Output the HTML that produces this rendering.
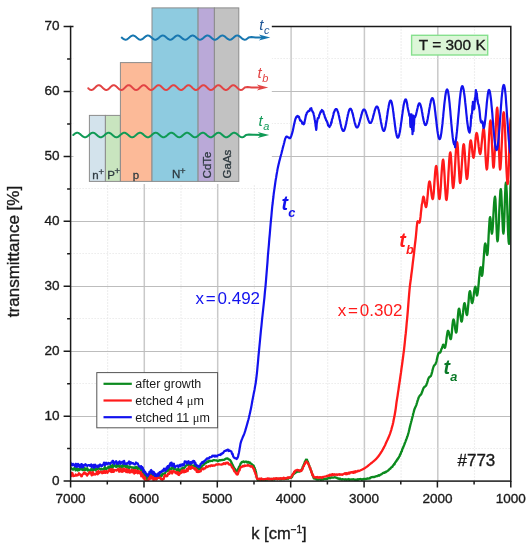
<!DOCTYPE html><html><head><meta charset="utf-8"><style>
html,body{margin:0;padding:0;background:#fff;}
svg{display:block;}
text{font-family:"Liberation Sans",Arial,sans-serif;}
.k{stroke:#1a1a1a;stroke-width:0.35px;}
</style></head><body>
<svg width="532" height="550" viewBox="0 0 532 550">
<rect width="532" height="550" fill="#fff"/>
<g><line x1="474.5" y1="26.5" x2="474.5" y2="481.1" stroke="#e0e0e0" stroke-width="1.2" stroke-dasharray="1 2"/><line x1="437.8" y1="26.5" x2="437.8" y2="481.1" stroke="#c9c9c9" stroke-width="1.5"/><line x1="401.1" y1="26.5" x2="401.1" y2="481.1" stroke="#e0e0e0" stroke-width="1.2" stroke-dasharray="1 2"/><line x1="364.4" y1="26.5" x2="364.4" y2="481.1" stroke="#c9c9c9" stroke-width="1.5"/><line x1="327.7" y1="26.5" x2="327.7" y2="481.1" stroke="#e0e0e0" stroke-width="1.2" stroke-dasharray="1 2"/><line x1="291.1" y1="26.5" x2="291.1" y2="481.1" stroke="#c9c9c9" stroke-width="1.5"/><line x1="254.4" y1="26.5" x2="254.4" y2="481.1" stroke="#e0e0e0" stroke-width="1.2" stroke-dasharray="1 2"/><line x1="217.7" y1="26.5" x2="217.7" y2="481.1" stroke="#c9c9c9" stroke-width="1.5"/><line x1="181" y1="26.5" x2="181" y2="481.1" stroke="#e0e0e0" stroke-width="1.2" stroke-dasharray="1 2"/><line x1="144.3" y1="26.5" x2="144.3" y2="481.1" stroke="#c9c9c9" stroke-width="1.5"/><line x1="107.6" y1="26.5" x2="107.6" y2="481.1" stroke="#e0e0e0" stroke-width="1.2" stroke-dasharray="1 2"/><line x1="70.6" y1="448.5" x2="510.8" y2="448.5" stroke="#e0e0e0" stroke-width="1" stroke-dasharray="1 2"/><line x1="70.6" y1="416.5" x2="510.8" y2="416.5" stroke="#bdbdbd" stroke-width="1"/><line x1="70.6" y1="383.5" x2="510.8" y2="383.5" stroke="#e0e0e0" stroke-width="1" stroke-dasharray="1 2"/><line x1="70.6" y1="351.5" x2="510.8" y2="351.5" stroke="#bdbdbd" stroke-width="1"/><line x1="70.6" y1="318.5" x2="510.8" y2="318.5" stroke="#e0e0e0" stroke-width="1" stroke-dasharray="1 2"/><line x1="70.6" y1="286.5" x2="510.8" y2="286.5" stroke="#bdbdbd" stroke-width="1"/><line x1="70.6" y1="253.5" x2="510.8" y2="253.5" stroke="#e0e0e0" stroke-width="1" stroke-dasharray="1 2"/><line x1="70.6" y1="221.5" x2="510.8" y2="221.5" stroke="#bdbdbd" stroke-width="1"/><line x1="70.6" y1="188.5" x2="510.8" y2="188.5" stroke="#e0e0e0" stroke-width="1" stroke-dasharray="1 2"/><line x1="70.6" y1="156.5" x2="510.8" y2="156.5" stroke="#bdbdbd" stroke-width="1"/><line x1="70.6" y1="123.5" x2="510.8" y2="123.5" stroke="#e0e0e0" stroke-width="1" stroke-dasharray="1 2"/><line x1="70.6" y1="91.5" x2="510.8" y2="91.5" stroke="#bdbdbd" stroke-width="1"/><line x1="70.6" y1="58.5" x2="510.8" y2="58.5" stroke="#e0e0e0" stroke-width="1" stroke-dasharray="1 2"/></g>
<defs><clipPath id="pc"><rect x="70.6" y="0" width="440.2" height="481.1"/></clipPath></defs>
<g clip-path="url(#pc)">
<polyline fill="none" stroke="#0b8a1e" stroke-width="2.3" stroke-linejoin="round" stroke-linecap="round" points="70.6,467.8 71.1,468.7 71.7,468.5 72.5,469.3 73.3,469.6 74.2,468.2 75,468.1 75.7,470.4 76.4,468.7 77.2,468.5 77.9,470.5 78.9,469 79.4,470 80,468.9 80.7,469.4 81.4,468.1 81.9,469.5 82.4,470.1 83,469.2 83.5,469.9 84.1,469.7 84.7,468.1 85.3,470 85.9,469.6 86.5,468.9 87.1,468.1 87.7,470.5 88.3,469.4 88.9,470.1 89.4,470.6 90,470.1 90.6,470.7 91.1,469.2 91.7,470.3 92.3,469.2 92.8,470.5 93.4,470.3 94,468.1 94.6,468.1 95.1,468.3 95.7,470.3 96.3,468.8 96.8,469.2 97.4,468.3 97.9,468.8 98.4,468.4 99,468.2 99.5,468.8 100,468.7 100.7,469.6 101.5,468.8 102.2,469.5 102.9,469.2 103.5,469.5 104.2,468.5 104.8,467 105.5,468.9 106.1,469.1 106.7,468.8 107.4,467.8 108,468.1 108.6,466.6 109.2,468.2 109.7,467.3 110.3,466.4 110.8,465.6 111.4,467.6 111.9,467.9 112.5,465.2 113.1,467.1 113.7,465.9 114.3,465.1 115,465.4 115.7,466.7 116.5,467 117,464.7 117.6,466.3 118.1,464.7 118.7,466.6 119.2,465.6 119.8,467.2 120.4,467.5 121,466.2 121.6,467.6 122.1,465.7 122.7,465.1 123.3,466.6 123.9,465.1 124.4,465.6 125,466.2 125.6,466.9 126.2,465.6 126.7,465.4 127.3,467.7 127.9,466.2 128.5,468.1 129.1,468 129.7,466.6 130.3,466.9 130.9,467.1 131.5,467.5 132.1,467.4 132.6,467.4 133.1,467.6 133.7,468.6 134.3,467.4 135,467.3 135.5,468.2 136.1,466.9 136.9,467.2 137.7,469.2 138.3,468 138.9,468.3 139.5,467.1 140.1,468.8 140.8,469.9 141.3,469 141.9,471.4 142.4,472.2 142.9,471.3 143.3,473.5 143.7,473.7 144,474.9 144.4,474.6 144.7,476.1 145.1,476.7 145.5,475.1 146,475.8 146.5,477.9 147,479.1 147.5,477.3 148,477.9 148.5,477.9 149,476.6 149.4,475.9 149.9,475 150.4,474.5 150.8,474.8 151.2,473.9 151.5,474.3 151.9,475.7 152.2,474 152.6,475.9 153,476.7 153.5,475.8 154,476 154.6,478.1 155.1,476.9 155.8,477 156.4,477.8 157.1,478.4 157.8,476.4 158.6,476.6 159.4,476.1 160.1,476.9 160.9,475.3 161.7,476 162.4,473.6 163.2,473.6 164,473.9 164.7,474.1 165.4,472.4 166,471.2 166.6,470.4 167.2,471 167.7,469.5 168.2,470.8 168.8,470.4 169.4,468.2 169.9,468.2 170.5,469.3 171.1,468.6 171.6,468.9 172.2,467.6 172.8,467.1 173.3,467.7 173.9,469.4 174.5,468.3 175,468.8 175.6,469.3 176.2,469.4 176.7,469.6 177.3,471.1 177.9,469.1 178.4,468.7 179,471.2 179.6,470.9 180.1,471.1 180.6,469.3 181.2,470.4 181.8,470.1 182.4,467.7 183.1,468.7 183.9,468.5 184.7,467.4 185.5,466.5 186.2,465.3 186.9,465.1 187.5,464.5 188,463.9 188.5,465 189,464.2 189.5,465.4 190,463.5 190.6,465.5 191.2,465 191.8,465.6 192.5,465.6 193.2,465.8 193.9,465.5 194.7,464.9 195.1,466.7 195.5,466 195.9,466.6 196.3,467.8 196.7,467.9 197.1,468.1 197.9,469.7 198.6,469.4 199.2,468.9 199.7,468.5 200.2,469 200.7,467.8 201.2,467.6 201.8,466.4 202.4,465.6 203,465.3 203.6,465 204.2,463.4 205,463.5 205.8,463.1 206.3,462.7 206.8,462.5 207.3,461.4 207.9,461.9 208.4,461.9 209,461 209.6,461 210.2,460.9 210.8,461 211.4,460.8 211.9,460.8 212.4,461 213.3,460.1 214.2,460.1 215.1,460.3 215.9,460.3 216.7,460.3 217.6,461.2 218.5,461 219.4,460.1 220.3,460.4 221.2,460.1 222.1,460 222.9,459.9 223.7,459.9 224.5,459.6 225.3,459 226.1,458.6 226.8,458.5 227.5,458.3 228.1,458.9 228.7,459.4 229.3,459.5 229.8,459.7 230.3,460.4 230.8,461.2 231.3,462.1 231.7,463.2 231.9,463.3 232.1,464.2 232.4,464.5 232.6,464.8 232.8,465.2 233,465.8 233.4,466.8 233.8,467.3 234.3,468.3 234.8,468.8 235.2,469.3 235.6,470.1 236,470.7 236.3,470.4 236.5,470.9 236.7,470.9 236.9,471.3 237.2,471.2 237.4,470.4 237.7,470.5 238,469.8 238.3,468.6 238.6,468 239,466.9 239.3,466.9 239.6,466.1 239.9,465.5 240.2,464.7 240.5,463.8 240.8,463.3 241.3,462.7 241.9,461.9 242.5,462.2 243.2,461.5 243.9,461.6 244.6,462.3 245.3,461.6 246,461.6 246.6,461.6 247.3,462.5 247.9,461.9 248.5,461.9 249.2,462.9 249.9,462.5 250.6,463.5 251.3,463.8 252,464.4 252.6,465 253.2,465.4 253.5,466 253.7,465.7 254,466.9 254.2,467.2 254.4,468 254.7,467.9 254.9,469.1 255.1,469.9 255.3,469.6 255.5,470.5 255.6,471.3 255.8,472.1 255.9,472.1 256.1,472.6 256.2,473.3 256.3,474.3 256.4,475.1 256.5,475.3 256.5,475.9 256.6,476.5 256.7,477 256.8,477.5 257.1,478 257.4,478.9 257.6,479.8 257.8,479.4 258.2,479.8 258.8,479.3 259.7,479.9 260.3,480 261,479.9 261.5,479.7 262,479.7 262.6,479.8 263.2,480 263.8,479.3 264.4,479.2 265,479.8 265.7,479.9 266.3,479.5 266.9,479.4 267.6,479.6 268.2,479.1 268.8,479.1 269.4,479 270,479.4 270.6,479.1 271.1,479 271.7,479.4 272.2,479.7 272.8,479 273.4,479.4 273.9,479.1 274.5,479.5 275,479.3 275.6,478.9 276.1,478.9 276.7,478.7 277.2,479.1 277.8,479 278.3,478.8 278.9,478.9 279.4,478.9 280,479.3 280.6,478.6 281.2,479.4 281.7,478.9 282.4,479 283,478.8 283.6,479.1 284.2,479.1 284.8,478.8 285.4,478.7 286,478.8 286.6,478.9 287.2,478.4 287.7,478.7 288.2,478.8 288.7,478.3 289.4,477.9 290,477.7 290.9,477.8 291.5,477.3 291.9,477.1 292.3,476.4 292.6,475.3 293,474.7 293.5,474.2 293.9,473.6 294.4,473.6 294.9,473.2 295.4,472.8 296,471.8 296.7,472.1 297.6,471.5 298.5,471.5 299.4,471.7 300.2,470.8 301,470.2 301.3,470.4 301.7,469.4 302,468.9 302.3,468.4 302.5,468.1 302.7,466.9 302.9,466.8 303.1,466.4 303.3,465.9 303.5,465.2 303.8,464.8 304,464.5 304.3,463.4 304.5,463 304.9,461.7 305.3,461.1 305.6,460.8 305.9,459.7 306.2,460.2 306.6,460.2 307,459.7 307.3,461.1 307.7,461.4 307.9,462.3 308.1,462.8 308.3,462.9 308.5,463.9 308.8,464.5 309,465.3 309.2,465.3 309.4,466.3 309.6,467 309.8,467.2 309.9,467.6 310.1,467.7 310.3,468.5 310.5,468.9 310.7,469.8 310.8,470.3 311,470.7 311.2,470.8 311.4,471.8 311.6,472.3 311.8,472.4 312,473.7 312.2,474.1 312.4,474.2 312.6,475.5 312.8,475.2 313,475.8 313.2,476.7 313.4,477.1 313.6,477.7 313.8,478.3 314,478.4 314.4,478.6 315,478.7 315.9,478.8 316.4,479.5 317,479.7 317.6,479.5 318.2,479.7 318.9,479.4 319.6,479.3 320.2,479.4 320.8,479.9 321.4,479.1 322,479.5 322.5,479.2 323.1,479.7 323.6,479.2 324.1,479.1 324.6,479.1 325.1,479.1 326,479.2 327,478.5 327.5,478.9 328,478.1 328.5,478.2 329,477.9 329.5,477.8 330,478.3 330.5,478.1 331,477.5 331.5,477.4 332,477.5 332.5,477.7 333,477.7 333.5,477.7 334,477.5 335,477.2 335.9,477.7 336.8,477.8 337.2,478.3 337.7,478.5 338.2,478.3 338.8,478.5 339.4,479.2 340,478.5 340.7,479.4 341.4,479.5 342,479.6 342.5,479.1 343,479.3 343.6,479.4 344.2,479.5 344.8,479.8 345.3,479.6 345.9,479.2 346.5,479.8 347.1,479.4 347.7,479.5 348.3,479.7 348.9,479 349.4,479.8 350,479.7 350.6,479.5 351.1,479.6 351.7,479.5 352.2,479.3 352.8,479.6 353.3,479.1 353.9,479.6 354.4,479.8 355,479.6 355.6,479.7 356.1,480.1 356.7,480 357.2,479.3 357.8,479.9 358.3,479.7 358.9,479.1 359.4,479.4 360,479.2 360.6,479 361.1,479.4 361.7,479.8 362.3,479.1 362.8,479.6 363.4,479.3 364,478.7 364.5,479.3 365.1,479 365.6,479.2 366.2,478.9 366.8,478.9 367.3,478.4 367.9,478.7 368.4,478.7 368.9,478.6 369.5,478 370,478.3 370.5,477.9 371,477.4 371.6,477.2 372.1,477.1 372.6,477.1 373.1,476.9 373.6,477.1 374.1,477.2 374.6,476.8 375.1,476.6 375.5,476.7 376,476.2 376.7,476.1 377.4,476.2 378,475.6 378.6,475.2 379.2,475.7 379.7,475.3 380.2,474.7 380.7,474.5 381.1,474.5 381.6,474.3 382.4,473.5 383.2,472.9 384,472.7 384.7,472.9 385.4,472 385.9,472.1 386.5,471.5 387.1,471.2 387.8,470.7 388.5,470.3 388.9,469.8 389.3,469.3 389.7,469 390.1,468.7 390.5,468.6 390.9,467.8 391.3,467.3 391.7,467.3 392.1,466.9 392.5,466.7 392.9,465.6 393.3,465.4 393.7,464.9 394.1,464 394.5,464.3 394.9,463 395.3,462.3 395.7,462.1 396.1,461.2 396.4,461.1 396.8,460.4 397.1,459.6 397.4,459.1 397.7,459.3 398.2,458.1 398.7,457.8 399.1,456.7 399.5,456.3 399.8,455.3 400,454.8 400.2,454.2 400.5,454.2 400.8,453.5 401,452.6 401.3,451.7 401.5,451.7 401.8,451.4 402,450.4 402.2,449.3 402.4,448.9 402.7,448.6 402.8,448.3 403,447.8 403.2,447.3 403.4,446.8 403.7,446.2 403.9,445.5 404.2,444.9 404.5,444.2 404.7,443.5 405,442.8 405.3,442.1 405.5,441.5 405.7,440.9 406,440.3 406.2,439.7 406.4,439 406.7,438.4 406.9,437.8 407.1,437.2 407.3,436.5 407.6,435.9 407.8,435.2 408,434.5 408.2,433.8 408.4,433.1 408.6,432.3 408.8,431.6 409,430.8 409.2,430 409.4,429.2 409.6,428.4 409.7,427.7 409.9,426.9 410.1,426.1 410.3,425.3 410.5,424.5 410.7,423.7 410.9,423 411.1,422.2 411.3,421.4 411.5,420.7 411.7,419.9 411.9,419.1 412.1,418.4 412.3,417.6 412.5,416.8 412.7,416.1 412.9,415.3 413.1,414.3 413.3,413.4 413.6,412.5 413.8,411.7 414,410.9 414.2,410.1 414.4,409.4 414.7,408.8 414.9,408.2 415.2,407.6 415.4,407 415.7,406.4 416,405.8 416.3,405.1 416.5,404.3 416.8,403.4 417.1,402.5 417.4,401.4 417.7,400.4 418.1,399.3 418.4,398.3 418.7,397.4 419.1,396.7 419.4,396.1 419.8,395.7 420.1,395.3 420.5,395 420.9,394.6 421.3,394 421.6,393.2 422,392.3 422.4,391.1 422.8,390 423.2,388.9 423.6,388 424,387.4 424.4,386.9 424.8,386.7 425.1,386.5 425.5,386.2 425.9,385.8 426.3,385.1 426.6,384.2 427,383.1 427.4,381.8 427.8,380.6 428.1,379.4 428.5,378.4 428.9,377.7 429.2,377.2 429.6,376.9 430,376.7 430.3,376.5 430.7,376.1 431.1,375.4 431.4,374.5 431.8,373.2 432.2,371.8 432.5,370.2 432.9,368.8 433.3,367.5 433.6,366.5 434,365.7 434.4,365.2 434.7,364.8 435.1,364.5 435.5,364 435.8,363.2 436.2,362.1 436.6,360.8 436.9,359.2 437.3,357.5 437.7,355.9 438.1,354.5 438.5,353.5 438.9,352.9 439.3,352.7 439.7,352.7 440.1,352.7 440.4,352.2 440.8,351.3 441,350.4 441.3,349.5 441.5,348.9 441.9,348.5 442.2,347.4 442.6,346.1 442.9,345 443.3,344.6 443.7,345.1 444.1,346.2 444.4,347.3 444.8,347.8 445.2,347.3 445.5,345.8 445.9,343.6 446.3,340.8 446.6,337.8 447,335.1 447.4,332.8 447.7,331.3 448.1,330.8 448.5,331.2 448.8,332.4 449.2,334 449.6,335.9 450,337.5 450.3,338.7 450.7,339.1 451.1,338.4 451.4,336.2 451.8,333.1 452.1,329.3 452.4,325.5 452.8,322.4 453.1,320.2 453.5,319.5 453.9,320.1 454.3,322 454.7,324.6 455,327.5 455.4,330.1 455.8,332 456.2,332.6 456.6,331.7 456.9,329.1 457.2,325.2 457.6,320.6 457.9,316 458.3,312.1 458.6,309.5 459,308.6 459.4,309.2 459.7,311 460.1,313.7 460.5,316.5 460.9,319.2 461.2,321 461.6,321.6 462,320.9 462.3,318.9 462.7,315.9 463.1,312.4 463.4,308.8 463.8,305.8 464.1,303.8 464.5,303.1 464.9,303.9 465.3,306.1 465.7,309.1 466.1,312.1 466.5,314.3 466.9,315.1 467.3,314.2 467.6,311.6 468,307.7 468.4,303.1 468.8,298.5 469.1,294.6 469.5,292 469.9,291.1 470.3,291.9 470.6,294.1 471,297.1 471.4,300.1 471.7,302.3 472.1,303.1 472.5,302.6 472.8,301.2 473.2,299 473.6,296.3 473.9,293.5 474.3,290.8 474.7,288.6 475,287.2 475.4,286.7 475.8,288 476.1,291.1 476.5,294.2 476.9,295.5 477.3,294.9 477.6,293.2 478,290.6 478.3,287.2 478.7,283.3 479,279.3 479.4,275.4 479.7,272 480.1,269.4 480.4,267.7 480.8,267.1 481.2,269.3 481.5,273.6 481.9,275.8 482.3,274.8 482.7,272 483,267.7 483.4,262.5 483.8,256.8 484.2,251.6 484.5,247.3 484.9,244.5 485.3,243.5 485.7,244.6 486.1,247.5 486.4,251 486.8,253.9 487.2,255 487.6,253.6 487.9,249.4 488.3,243.3 488.6,236.1 489,228.8 489.4,222.7 489.7,218.5 490.1,217.1 490.5,218.7 490.8,222.8 491.2,227.9 491.5,232 491.9,233.6 492.3,232.2 492.7,228.2 493.1,222.2 493.4,215.2 493.8,208.1 494.2,202.1 494.6,198.1 495,196.7 495.4,198.9 495.7,205.1 496.1,214 496.4,224 496.8,232.9 497.1,239.1 497.5,241.3 497.9,239.7 498.2,235.2 498.6,228.2 499,219.7 499.3,210.7 499.7,202.2 500.1,195.2 500.4,190.7 500.8,189.1 501.2,191.3 501.5,197.5 501.9,206.4 502.3,216.3 502.7,225.2 503,231.4 503.4,233.6 503.8,231.1 504.1,224 504.5,213.8 504.8,202.5 505.2,192.3 505.5,185.2 505.9,182.7 506.3,185 506.7,191.6 507.1,201.6 507.4,213.2 507.8,224.9 508.2,234.9 508.6,241.5 509,243.8 509.4,237.8 509.7,222.1 510.1,202.7 510.4,187 510.8,181"/>
<polyline fill="none" stroke="#ff1a1a" stroke-width="2.3" stroke-linejoin="round" stroke-linecap="round" points="70.6,475.9 71.1,476 71.7,472.8 72.5,473.2 73.3,476.2 74.2,476 75,475.8 75.7,474.5 76.4,475.5 77.2,475.4 77.9,475.1 78.9,473.3 79.4,474.3 80,474.1 80.7,475.3 81.4,476.3 81.9,476.1 82.4,474.5 83,474.1 83.5,473.4 84.1,472.5 84.7,472.4 85.3,474.1 85.9,473.5 86.5,473.7 87.1,475.6 87.7,474.1 88.3,474.2 88.9,472.9 89.4,472.1 90,473.1 90.6,472.3 91.1,473.7 91.7,475.4 92.3,474.1 92.8,472.1 93.4,474.7 94,474.3 94.6,473.9 95.1,474.5 95.7,473.8 96.3,473.8 96.8,472 97.4,474.3 97.9,474.1 98.4,471 99,473.1 99.5,472.9 100,471.9 100.7,472 101.5,471.7 102.2,473.3 102.9,471.6 103.5,472.8 104.2,470.9 104.8,472.8 105.5,472.8 106.1,471.1 106.7,471.4 107.4,472.7 108,471.9 108.6,470.9 109.2,469.8 109.7,470 110.3,471.4 110.8,469.2 111.4,472 111.9,469.4 112.5,471.8 113.1,469.4 113.7,471.8 114.3,470.8 115,470 115.7,470.1 116.5,470.6 117,470.3 117.6,469.3 118.1,468.9 118.7,470.1 119.2,471.7 119.8,470.6 120.4,468.5 121,471.4 121.6,471.1 122.1,471.8 122.7,469.1 123.3,471.3 123.9,468.7 124.4,471 125,469.6 125.6,469.5 126.2,472.1 126.7,469.2 127.3,470.9 127.9,472.2 128.5,470 129.1,470 129.7,472.6 130.3,471 130.9,472.2 131.5,469.7 132.1,471 132.6,470.4 133.1,472.4 133.7,470.2 134.3,473.6 135,470.2 135.5,472.9 136.1,470.3 136.9,471.2 137.7,473.3 138.3,470.9 138.9,471.1 139.5,473.3 140.1,472.6 140.8,472 141.3,476.3 141.9,473.9 142.4,474.2 142.9,476 143.3,477.6 143.7,478.6 144,476.7 144.4,478.1 144.7,477.3 145.1,479.2 145.5,480.7 146,480.8 146.5,481.6 147,481.1 147.5,481.5 148,480.8 148.5,479.6 149,478.1 149.4,479.1 149.9,477.2 150.4,475.9 150.8,476.9 151.2,478.5 151.5,475.9 151.9,477.9 152.2,477.5 152.6,478.3 153,477.1 153.5,480.4 154,478 154.6,479.5 155.1,478.9 155.8,477.5 156.4,479.6 157.1,478 157.8,477.7 158.6,477.6 159.4,477.9 160.1,477.5 160.9,479.3 161.6,478.5 162.3,479.9 163,479.2 163.7,478.9 164.5,475.5 165,476.1 165.4,475.1 165.9,476.1 166.4,475.9 166.9,476.2 167.5,475.6 168.1,473.5 168.7,473.8 169.3,473.9 169.8,471.6 170.4,471.4 171,472.6 171.6,471.3 172.2,473.5 172.8,471.6 173.3,471 173.9,471.4 174.4,471.6 175,471.7 175.5,473 176.1,472.9 176.7,472.4 177.2,473.8 177.8,472.2 178.4,474.8 179,475 179.7,473.9 180.3,472.6 180.8,472.7 181.3,472.8 181.7,470.6 182.2,471.8 182.7,472 183.2,470.4 183.6,469.9 184.1,472.3 184.6,470.5 185.2,470.7 185.8,471.9 186.4,470.5 186.9,469 187.7,471.1 188.3,468.5 188.7,467 189.1,468.9 189.5,466.7 190,467.3 190.6,468.9 191.2,468.4 191.8,466.5 192.5,467.9 193.2,468 193.9,468.6 194.7,468.2 195.1,469.6 195.5,468.5 195.9,469.5 196.3,470 196.7,471.8 197.1,470 197.9,472.1 198.6,471.1 199.2,471.9 199.7,471.3 200.2,471.1 200.7,471.3 201.2,470.1 201.8,469.2 202.4,468.8 203,468.3 203.6,469.2 204.2,468.3 205,468.4 205.8,467.5 206.3,466.3 206.8,467.1 207.3,467 207.9,466.8 208.4,466.3 209,465.9 209.6,465.9 210.2,466.2 210.8,465.4 211.4,465.6 211.9,465.4 212.4,465.9 213.3,465.5 214.2,465.6 215.1,465.3 215.9,464.5 216.7,464.3 217.6,464.6 218.5,464.2 219.4,464.3 220.3,464.5 221.2,464.7 222.1,464.1 222.9,464.3 223.7,463.2 224.5,463.4 225.3,464.1 226.1,462.8 226.8,463.1 227.5,462.7 228.1,462.9 228.7,464.2 229.3,464.7 229.8,464.6 230.3,464.3 230.8,465 231.3,465.5 231.7,466.7 232.1,467.4 232.6,467.7 233,468.6 233.4,468.7 233.8,470 234.3,471.3 234.8,471.7 235.2,471.6 235.6,472.8 236,473.5 236.3,473.2 236.6,474.3 236.9,473.9 237.1,474.3 237.3,473.8 237.6,474.5 237.9,473.9 238.1,473.1 238.4,472 238.7,471.7 239,470.5 239.3,470.6 239.6,470.4 239.9,468.7 240.2,468.4 240.5,467.7 240.8,467 241.3,466.9 241.9,466.8 242.5,466.3 243.2,465.8 243.9,466.3 244.6,465.4 245.3,465.8 246,465.6 246.6,465.7 247.3,465.7 247.9,464.9 248.5,465.5 249.2,465.4 249.9,465.9 250.6,466.6 251.3,466.5 252,466.1 252.6,467.2 253.2,468.2 253.5,468.9 253.7,469 254,469.8 254.2,469.2 254.4,471.1 254.7,471.4 254.9,471.9 255.1,472.9 255.3,473.4 255.5,473 255.6,474.4 255.8,474.9 256.1,474.9 256.3,476.4 256.5,476.9 256.6,477 256.8,478.4 257.1,477.9 257.4,478.9 257.6,478.8 257.8,478.7 258.2,479.1 258.8,479 259.7,478.7 260.3,479.7 261,478.6 261.5,478.5 262,479.1 262.6,479.6 263.2,479.3 263.8,479.5 264.4,479.1 265,479.3 265.7,478.9 266.3,478.8 266.9,479.1 267.6,478.4 268.2,478.5 268.8,479.4 269.4,478.6 270,479.3 270.6,479.4 271.1,478.8 271.7,479.2 272.2,479.3 272.8,479.4 273.4,478.4 273.9,478.4 274.5,478.7 275,478.8 275.6,478.5 276.1,478.1 276.7,478.8 277.2,479.3 277.8,478.5 278.3,478.7 278.9,478.4 279.4,478.5 280,479 280.6,478.2 281.2,478.6 281.7,478.4 282.4,478.4 283,478.9 283.6,477.7 284.2,478.7 284.8,477.9 285.4,478.3 286,478.5 286.6,478.2 287.2,477.8 287.7,478.3 288.2,477.3 288.7,477.9 289.4,477.4 290,477.4 290.5,477.6 290.9,477.4 291.5,476.6 291.9,475.6 292.3,474.9 292.6,474.5 293,473.6 293.4,473.1 293.8,473.4 294.2,471.6 294.7,471.9 295.2,470.8 295.8,470.4 296.6,470.2 297.5,469.9 298.1,470.5 298.6,470.1 299.1,470.5 299.6,470.4 300.6,471.1 301.4,470.8 301.8,469.7 302.1,469.6 302.4,469.5 302.8,468.1 303,467.2 303.3,466.8 303.6,466.1 303.9,466.1 304.1,465.1 304.4,464.5 304.8,464.2 305.2,462.8 305.5,462.9 305.7,462.2 306,461.6 306.3,462 306.6,461.4 307,462.3 307.4,462.8 307.9,462.9 308.3,463.9 308.6,464.7 308.8,464.9 309,465.4 309.3,466.1 309.6,466.9 309.8,467.3 310,468.2 310.2,467.8 310.4,468.8 310.6,469.5 310.8,469.7 311,470.3 311.2,470.7 311.4,472.3 311.6,472.1 311.8,472.8 312,473.9 312.2,473.5 312.4,475.1 312.7,474.6 313.1,475.2 313.3,476.2 313.6,476.4 313.9,477.3 314.3,477.4 315,477.3 316,477.1 316.6,477.3 317.2,477 317.9,477.9 318.5,477.3 319.3,477.2 320,477.7 320.7,477.1 321.5,477.3 322.2,478 322.9,476.9 323.6,476.8 324.3,476.7 324.8,476.6 325.3,476.7 325.8,476.3 326.3,476.3 326.8,475.9 327.3,475.8 327.8,476.1 328.3,475.5 328.9,475.4 329.4,475.7 329.9,474.6 330.4,474.6 330.9,475.4 331.4,474.7 331.9,475.1 332.4,474.1 332.9,474.6 333.4,475 334.1,474.3 334.9,474.8 335.6,474.6 336.4,474.3 337.1,475.1 337.9,474.3 338.4,474.4 338.9,474.6 339.4,474.1 339.9,474.8 340.4,474.5 340.9,474.4 341.4,474.3 341.9,474.8 342.4,474.8 342.9,474.5 343.4,474 343.9,473.8 344.4,473.9 344.9,473.2 345.4,473.2 346,474.3 346.5,473.1 347,474.1 347.5,473.7 348,473.9 348.5,472.7 349,472.9 349.5,473.5 350,472.3 350.5,472.4 351.1,472.6 351.6,472.2 352.2,472.1 352.8,472.7 353.3,471.8 353.9,472.8 354.5,472.2 355.1,471.3 355.6,472.3 356.1,471.3 356.7,471.5 357.3,471.5 358,470.7 358.5,471.1 359,471 359.7,470.7 360.6,470.3 361.7,469.8 362.8,469.2 364,468.6 365,468 365.9,467.4 366.8,466.7 367.7,466.1 368.5,465.4 369.4,464.7 370.2,464 371,463.3 371.9,462.7 372.7,462 373.5,461.3 374.3,460.7 375,460 375.7,459.4 376.3,458.7 376.9,458.1 377.4,457.5 378,456.8 378.6,456 379.2,455.1 379.9,454.2 380.6,453.2 381.2,452.1 381.9,451.1 382.5,450 383.1,448.9 383.7,447.9 384.2,446.8 384.8,445.7 385.4,444.4 386,443 386.7,441.4 387.5,439.8 388.3,438 389.1,436.1 389.9,434.1 390.6,432 391.3,429.8 391.9,427.5 392.6,425 393.2,422.5 393.7,419.8 394.3,417.1 394.8,414.2 395.3,411.2 395.8,408.1 396.2,404.9 396.6,401.7 397.1,398.6 397.6,395.6 398,392.6 398.5,389.6 398.9,386.5 399.4,383.4 399.9,380 400.4,376.3 401,372.4 401.5,368.4 402.1,364.3 402.6,360.5 403.1,356.9 403.5,353.7 403.9,350.8 404.2,348 404.5,345.3 404.8,342.5 405.1,339.5 405.4,336.4 405.8,333.2 406.1,330 406.4,326.7 406.7,323 407.1,319.1 407.5,314.7 407.9,309.8 408.3,304.7 408.7,299.5 409.1,294.6 409.5,290 409.9,285.9 410.4,282.1 410.9,278.5 411.3,275 411.8,271.3 412.3,267.3 412.8,262.9 413.4,258.2 414,253.3 414.5,248.5 415,244 415.5,240 415.9,236.4 416.2,233 416.5,229.9 416.7,227.1 417,224.8 417.2,223 417.4,221.8 417.7,221.3 417.9,221.2 418.1,221.4 418.3,221.6 418.5,221.6 418.7,221.7 418.9,222.1 419.2,222.5 419.4,222.7 419.6,222.4 419.9,221.4 420.2,219.4 420.6,216.4 420.9,212.9 421.3,209.5 421.6,206.5 421.8,204.5 422.2,203.3 422.6,200.6 423,197.8 423.4,196.6 423.8,197.1 424.1,198.6 424.5,200.6 424.9,203 425.3,205 425.6,206.5 426,207 426.4,206.4 426.7,204.6 427.1,201.7 427.4,198.2 427.8,194.2 428.1,190.3 428.4,186.8 428.8,183.9 429.1,182.1 429.5,181.5 429.9,182 430.2,183.6 430.6,185.9 430.9,188.8 431.3,191.8 431.6,194.7 432,197 432.3,198.6 432.7,199.1 433.1,198.3 433.4,195.9 433.8,192.3 434.1,187.7 434.4,182.6 434.8,177.4 435.1,172.8 435.5,169.2 435.8,166.8 436.2,166 436.6,167 436.9,169.9 437.3,174.2 437.6,179.6 438,185.4 438.3,190.8 438.7,195.1 439,198 439.4,199 439.8,198 440.1,195.2 440.5,190.9 440.9,185.4 441.2,179.3 441.6,173.2 442,167.7 442.4,163.4 442.7,160.6 443.1,159.6 443.5,160.8 443.8,164.3 444.2,169.7 444.6,176.3 444.9,183.3 445.3,189.9 445.7,195.3 446,198.8 446.4,200 446.8,199 447.1,196.2 447.5,191.8 447.8,186.1 448.2,179.6 448.5,172.8 448.9,166.3 449.2,160.6 449.6,156.2 449.9,153.4 450.3,152.4 450.7,153.8 451,157.6 451.4,163.4 451.7,170.2 452.1,177 452.4,182.8 452.8,186.6 453.1,188 453.5,187.1 453.8,184.4 454.2,180.1 454.6,174.6 454.9,168.4 455.3,161.8 455.6,155.6 456,150.1 456.4,145.8 456.7,143.1 457.1,142.2 457.5,143.8 457.9,148.2 458.2,154.8 458.6,162.6 459,170.4 459.4,177 459.7,181.4 460.1,183 460.5,182.1 460.8,179.3 461.2,175 461.5,169.6 461.9,163.6 462.3,157.6 462.6,152.2 463,147.9 463.3,145.1 463.7,144.2 464.1,145.2 464.4,148.3 464.8,152.9 465.1,158.6 465.5,164.6 465.8,170.3 466.2,174.9 466.5,178 466.9,179 467.3,178.1 467.7,175.3 468,171 468.4,165.7 468.8,159.7 469.2,153.7 469.6,148.4 469.9,144.1 470.3,141.3 470.7,140.4 471.1,141.1 471.4,142.9 471.8,145.7 472.1,149 472.4,152.4 472.8,155.2 473.1,157 473.5,157.7 473.9,156.8 474.3,154.1 474.7,150.1 475.1,145.3 475.4,140.6 475.8,136.6 476.2,133.9 476.6,133 477,133.5 477.3,135 477.7,137.3 478,140.3 478.4,143.5 478.7,146.7 479.1,149.7 479.4,152 479.8,153.5 480.1,154 480.5,153.4 480.8,151.6 481.2,148.8 481.5,145.2 481.9,141.3 482.3,137.4 482.6,133.8 483,131 483.3,129.2 483.7,128.6 484.1,130.2 484.5,134.6 484.9,141.2 485.2,149 485.6,156.9 486,163.5 486.4,167.9 486.8,169.5 487.2,168.3 487.5,164.8 487.9,159.4 488.3,152.6 488.6,145 489,137.4 489.4,130.6 489.8,125.2 490.1,121.7 490.5,120.5 490.9,122.3 491.2,127.4 491.6,135.1 492,144.1 492.4,153.1 492.8,160.8 493.1,165.9 493.5,167.7 493.9,166.2 494.2,162 494.6,155.3 495,147 495.4,137.7 495.7,128.4 496.1,120.1 496.5,113.4 496.8,109.2 497.2,107.7 497.6,110.1 497.9,116.8 498.3,126.8 498.6,138.6 499,150.4 499.4,160.4 499.7,167.1 500.1,169.5 500.5,168.1 500.8,164 501.2,157.7 501.5,149.7 501.9,140.9 502.3,132.1 502.6,124.1 503,117.8 503.3,113.7 503.7,112.3 504.1,113.8 504.4,118 504.8,124.7 505.2,133.3 505.5,143.1 505.9,153.3 506.2,163.1 506.6,171.7 507,178.4 507.3,182.6 507.7,184.1 508.1,181.6 508.5,174.4 508.9,163.7 509.2,151.1 509.6,138.4 510,127.7 510.4,120.5 510.8,118"/>
<polyline fill="none" stroke="#1212ee" stroke-width="2.2" stroke-linejoin="round" stroke-linecap="round" points="70.6,462.7 71.2,465.4 72,465.4 72.9,463.8 73.4,464.9 73.9,464.9 74.5,465.7 75,466.3 75.5,463.9 76,463.8 76.5,466.8 77,465.4 77.5,466.6 78,463.9 78.5,465.5 79.1,466.5 79.6,464.8 80.1,467.4 80.7,467.2 81.3,464.1 81.8,464.1 82.4,465.9 83,467.4 83.6,465.4 84.2,464.8 84.9,465.6 85.5,464.2 86.2,464.9 86.8,465.7 87.5,466 88.1,465 88.8,465 89.4,465 90,465.9 90.6,465.2 91.2,464.3 91.7,467.2 92.3,466.2 92.9,466.5 93.4,464.9 94,467.8 94.5,467.3 95.1,464.6 95.7,465.3 96.3,466.7 96.9,466.6 97.5,467.3 98.2,465.3 98.8,466.6 99.4,465.9 100.1,464.4 100.7,465.3 101.4,466.2 102.1,465.9 102.8,464.5 103.5,464.6 104,462.5 104.5,463.2 105,465.1 105.5,463.6 106.1,462.6 106.6,463.9 107.2,464.3 107.8,464.1 108.3,462.9 108.9,463 109.5,463.2 110.1,464 110.7,463 111.3,462.4 111.9,462.7 112.5,460.9 113.1,460.9 113.7,463.2 114.3,464.1 114.9,462.7 115.5,461.9 116.1,461.1 116.7,462.3 117.2,464 117.8,463.2 118.4,462.4 119,463.5 119.6,461.3 120.2,462.3 120.7,463.9 121.3,462.6 121.9,462.2 122.5,461.6 123,462.6 123.6,464.2 124.1,460.8 124.7,463.6 125.2,463.8 125.8,464.1 126.4,463.6 126.9,463.9 127.5,462.9 128,463.2 128.6,462.7 129.1,461.5 129.7,464.5 130.2,463.5 130.8,462.2 131.3,463.4 131.8,463.4 132.3,463 133,463.1 133.8,463.9 134.4,464.3 135,464.4 135.5,463.9 136,462.5 136.9,463.3 137.6,463.3 138.3,464.9 138.9,466.2 139.5,466.4 140.1,466.9 140.8,467.7 141.1,466.1 141.3,468.6 141.6,468.5 141.9,466.8 142.4,467.3 142.9,468.1 143.3,471.4 143.7,470.2 144,470.2 144.4,472.6 144.7,472.2 145.1,471.7 145.5,472.5 146,474.3 146.5,473.6 147,474.3 147.5,476.2 148,475.2 148.5,474.4 149,474.3 149.4,471.8 149.9,472.2 150.4,471.6 150.8,470.4 151.2,470 151.5,473.1 151.9,472 152.2,471.3 152.6,473.2 153,474.3 153.5,471.9 154,472.4 154.6,473.3 155.1,475.9 155.8,474.1 156.4,476.1 157.1,475.8 157.8,474.8 158.2,473.3 158.6,475.7 159,474.7 159.4,473.4 159.7,472 160.1,473.1 160.9,471.6 161.7,471.8 162.4,470.4 163.2,471.1 164,468.6 164.7,469 165.4,470.9 166,470 166.6,467.4 167.2,468.8 167.7,466.2 168.2,467.9 168.8,466.8 169.4,465.2 169.9,464.2 170.5,463 171.1,465.8 171.6,462.6 172.2,465.3 172.8,466 173.3,464.8 173.9,463.7 174.5,466.6 175,467.4 175.6,466.6 176.2,466.1 176.7,465.8 177.3,465.8 177.9,465.4 178.4,467.1 179,466.2 179.6,465.2 180.1,464.6 180.6,466.4 181.2,464.7 181.8,465.1 182.4,464.1 183.1,465.6 183.9,465.2 184.7,461.4 185.5,461.6 186.2,461.6 186.9,463.6 187.5,462.8 188,461.4 188.5,461.2 189,462.9 189.5,463.6 190,463.9 190.5,462 191.1,463.4 191.7,462.5 192.2,461.6 192.8,462.8 193.3,460.8 193.8,462.4 194.2,461.1 194.6,461.8 195.1,464.3 195.5,463.1 195.9,464.9 196.3,465 196.8,466 197.2,465.4 197.7,465.7 198.1,465.8 198.6,467.1 199.1,466.3 199.6,466.7 200,466 200.6,463.9 201.1,464 201.8,462.6 202.2,462.1 202.6,461.9 203,462.9 203.4,462.4 203.9,462 204.3,460.8 204.8,460.9 205.3,460.7 205.7,459.7 206.2,459.6 206.6,458.8 207.1,458.3 207.5,458.3 208,458.8 208.5,458.2 208.9,458.4 209.4,457.5 209.8,457.1 210.7,457.3 211.6,457 212.4,455.7 213.1,456.3 213.8,455.6 214.4,455.6 215,456.6 215.7,455.5 216.3,455.7 217,456.5 217.6,455.6 218.3,455 219,454.9 219.6,454.7 220.3,455 221,453.8 221.6,454.3 222.3,453 222.9,453.2 223.5,452.5 224.2,451.3 224.9,450.9 225.6,450.9 226.2,450.1 226.9,450.6 227.6,449.7 228.2,449.7 228.8,451 229.3,450.3 229.9,450.9 230.4,451.1 230.9,451.3 231.4,451.5 231.9,453.4 232.1,453.9 232.3,454.4 232.6,453.8 232.8,454.5 233,455.5 233.2,456.5 233.4,456.4 233.7,457 234.1,457.7 234.6,457.7 235.1,458.4 235.6,458.3 236,458.4 236.4,458.4 236.7,459 236.8,458.8 237,458.5 237.3,458.2 237.5,457.8 237.8,457.3 238,456.7 238.2,455.9 238.4,455.1 238.6,454.1 238.9,453 239.1,451.9 239.3,450.8 239.5,449.6 239.7,448.2 240,446.8 240.2,445.4 240.4,444.1 240.7,442.9 241,441.9 241.3,440.9 241.6,440.1 241.9,439.3 242.3,438.4 242.6,437.6 242.9,436.8 243.2,436.1 243.6,435.4 243.9,434.7 244.3,433.7 244.7,432.5 245.2,430.9 245.7,429.1 246.3,427.1 246.9,425 247.5,422.9 248,421 248.5,419.3 248.9,417.7 249.2,416.1 249.6,414.6 250,412.9 250.4,411.1 250.8,409.2 251.2,407.2 251.6,405.1 252,402.8 252.4,400.5 252.9,398 253.4,395.4 253.9,392.7 254.5,389.9 255,386.9 255.6,383.6 256.1,380 256.6,375.9 257.1,371.5 257.5,366.8 258,361.8 258.4,356.8 258.9,351.8 259.4,346.7 259.9,341.5 260.4,336.2 260.9,330.9 261.5,325.4 262,320 262.6,314.5 263.2,309 263.8,303.5 264.4,297.9 264.9,292.2 265.5,286.4 266,280.4 266.5,274.2 267,268 267.5,261.8 267.9,255.7 268.4,250 268.9,244.5 269.3,239.1 269.8,233.9 270.2,228.9 270.6,224.2 271,219.8 271.4,215.9 271.7,212.3 272,209.1 272.3,206 272.7,203 273,200 273.4,197 273.7,194 274.1,191.1 274.5,188.3 274.9,185.5 275.3,182.7 275.7,179.9 276.2,177.2 276.6,174.5 277.1,171.9 277.5,169.4 278,167 278.5,164.8 279,162.7 279.5,160.6 280,158.7 280.5,156.8 281,155 281.5,153.2 281.9,151.4 282.4,149.6 282.8,147.9 283.2,146.4 283.6,145 283.9,143.8 284.2,142.7 284.4,141.8 284.6,141 284.8,140.2 285,139.5 285.2,138.8 285.4,138.2 285.7,137.7 285.9,137.2 286.1,136.8 286.4,136.6 286.7,136.5 287,136.6 287.3,136.8 287.6,137 288,137.2 288.3,137.4 288.6,137.6 289,137.8 289.3,138.1 289.6,138.2 290,138.2 290.3,137.9 290.6,137.4 291,136.7 291.3,135.9 291.6,134.9 292,133.7 292.4,132.2 292.9,130.3 293.4,127.9 293.9,125.3 294.5,122.8 295,120.5 295.5,118.8 296,117.7 296.4,116.8 296.8,116.5 297.3,116.9 297.7,116 298.1,116.2 298.5,116.7 298.9,116.7 299.4,118.3 299.8,119.5 300.2,120.7 300.7,120.2 301.2,121.2 301.7,121.6 302.2,123.6 302.8,123.8 303.3,122.8 303.8,124.3 304.3,123.4 304.7,121.4 305.1,119.6 305.6,117 306,115 306.4,114.7 306.8,112.9 307.3,112.4 307.7,111.9 308.2,111.1 308.6,111.4 309,110.9 309.4,111 309.7,109.8 310,109.5 310.3,108.7 310.7,108.7 311,108.3 311.3,108.2 311.7,110 312,110.6 312.4,111.2 312.7,111.9 313.1,112.3 313.5,113.4 313.8,115 314.2,116.3 314.6,119.2 314.9,120.2 315.2,122.5 315.4,123.2 315.6,125.9 315.8,127.2 315.9,127 316,128.3 316.2,129.8 316.4,128.5 316.5,128.3 316.6,125.6 316.8,123.2 317,122.5 317.2,121.4 317.5,119.4 317.8,118.2 318.1,117.8 318.5,118.2 318.9,117 319.3,115 319.8,114.2 320.3,112.7 320.8,111.5 321.3,111.8 321.9,110 322.4,110.6 322.9,111 323.4,111.7 323.9,114.3 324.4,114.9 325,117.6 325.5,118.1 326.1,120.1 326.8,121.2 327.5,122.8 328.1,125.4 328.7,126.2 329.1,126.1 329.5,127.1 329.8,125.6 330.2,125.4 330.5,125.5 330.9,124.2 331.2,122.2 331.6,122.6 331.9,119.9 332.3,118.7 332.6,118.2 333,116.1 333.4,114.7 333.7,113 334.1,111.9 334.4,111.7 334.8,110.2 335.1,110 335.5,109.4 335.8,109.1 336.2,109 336.6,109.1 336.9,109.5 337.3,110.2 337.6,111.1 338,112.2 338.4,113.5 338.7,115 339.1,116.6 339.4,118.3 339.8,120 340.2,121.7 340.5,123.4 340.9,125 341.2,126.5 341.6,127.8 342,128.9 342.3,129.8 342.7,130.5 343,130.9 343.4,131 343.8,130.9 344.1,130.5 344.4,129.8 344.8,128.9 345.1,127.7 345.5,126.4 345.8,124.9 346.2,123.3 346.5,121.6 346.9,119.9 347.2,118.1 347.6,116.4 347.9,114.8 348.3,113.3 348.6,112 349,110.8 349.3,109.9 349.7,109.2 350,108.8 350.4,108.7 350.8,108.8 351.1,109.3 351.5,110 351.9,110.9 352.2,112.1 352.6,113.4 353,114.9 353.3,116.5 353.7,118.1 354.1,119.7 354.4,121.3 354.8,122.8 355.2,124.1 355.5,125.3 355.9,126.2 356.3,126.9 356.6,127.4 357,127.5 357.4,127.4 357.7,127.1 358.1,126.5 358.4,125.8 358.8,124.9 359.1,123.8 359.4,122.6 359.8,121.3 360.1,119.9 360.5,118.5 360.9,117.1 361.2,115.7 361.6,114.4 361.9,113.2 362.2,112.1 362.6,111.2 362.9,110.5 363.3,109.9 363.6,109.6 364,109.5 364.4,109.6 364.7,109.9 365.1,110.4 365.4,111.1 365.8,111.9 366.1,112.9 366.4,113.9 366.8,115.1 367.1,116.2 367.5,117.4 367.9,118.6 368.2,119.6 368.6,120.6 368.9,121.4 369.2,122.1 369.6,122.6 369.9,122.9 370.3,123 370.7,122.9 371,122.6 371.4,122 371.7,121.3 372.1,120.3 372.4,119.3 372.8,118.1 373.1,116.8 373.5,115.4 373.8,114.1 374.2,112.7 374.5,111.4 374.9,110.2 375.2,109.2 375.6,108.2 375.9,107.5 376.3,106.9 376.6,106.6 377,106.5 377.4,106.7 377.7,107.2 378.1,108 378.4,109.1 378.8,110.4 379.1,112 379.5,113.8 379.9,115.7 380.2,117.7 380.6,119.7 380.9,121.7 381.3,123.6 381.7,125.4 382,127 382.4,128.3 382.7,129.4 383.1,130.2 383.4,130.7 383.8,130.9 384.2,130.7 384.5,130.1 384.9,129.1 385.2,127.7 385.6,126 385.9,124 386.3,121.8 386.7,119.4 387,117 387.4,114.4 387.7,112 388.1,109.6 388.5,107.4 388.8,105.4 389.2,103.7 389.5,102.3 389.9,101.3 390.2,100.7 390.6,100.5 391,100.7 391.3,101.4 391.7,102.5 392,104.1 392.4,105.9 392.8,108.2 393.1,110.7 393.5,113.4 393.8,116.2 394.2,119.1 394.6,122 394.9,124.8 395.3,127.5 395.6,130 396,132.3 396.4,134.1 396.7,135.7 397.1,136.8 397.4,137.5 397.8,137.7 398.2,137.5 398.5,136.9 398.9,136 399.2,134.7 399.6,133 400,131.1 400.3,128.9 400.7,126.5 401,123.9 401.4,121.3 401.8,118.5 402.1,115.8 402.5,113.2 402.8,110.6 403.2,108.2 403.5,106 403.9,104.1 404.3,102.4 404.6,101.1 405,100.2 405.3,99.6 405.7,99.4 406.1,99.7 406.4,100.7 406.8,102.3 407.2,104.3 407.5,106.5 407.9,108.6 408.3,110.6 408.7,112.2 409,113.2 409.2,115 409.5,116 409.8,116.1 410,114.3 410.2,123.5 410.5,126.8 410.8,123.5 411,123.8 411.2,119.2 411.5,114.3 411.8,123.7 412,129.7 412.2,116.2 412.5,134.2 412.8,119.9 413,119.2 413.2,115.6 413.5,131.3 413.8,124.8 414,124.9 414.2,120.3 414.5,116.5 414.8,117.5 415,117.3 415.3,116.7 415.7,115.7 416.1,114.4 416.4,112.9 416.8,111.3 417.2,109.5 417.6,107.9 417.9,106.4 418.3,105.1 418.7,104.1 419,103.5 419.4,103.3 419.8,103.5 420.1,104 420.5,104.9 420.8,106.1 421.2,107.6 421.6,109.3 421.9,111.2 422.3,113.2 422.6,115.2 423,117.2 423.3,119.1 423.7,120.8 424.1,122.3 424.4,123.5 424.8,124.4 425.1,124.9 425.5,125.1 425.9,124.9 426.2,124.4 426.6,123.5 427,122.3 427.3,120.7 427.7,119 428,117 428.4,114.9 428.8,112.7 429.1,110.5 429.5,108.3 429.9,106.2 430.2,104.2 430.6,102.5 430.9,100.9 431.3,99.7 431.7,98.8 432,98.3 432.4,98.1 432.8,98.4 433.1,99.1 433.5,100.3 433.8,102 434.2,104.1 434.6,106.6 434.9,109.3 435.3,112.3 435.6,115.4 436,118.6 436.4,121.9 436.7,125 437.1,128 437.4,130.7 437.8,133.2 438.2,135.3 438.5,137 438.9,138.2 439.2,138.9 439.6,139.2 440,138.9 440.3,138.1 440.7,136.7 441,134.9 441.4,132.6 441.7,129.8 442.1,126.8 442.5,123.4 442.8,119.9 443.2,116.2 443.5,112.5 443.9,108.8 444.2,105.3 444.6,101.9 445,98.9 445.3,96.1 445.7,93.8 446,92 446.4,90.6 446.7,89.8 447.1,89.5 447.5,89.8 447.8,90.7 448.2,92.2 448.5,94.3 448.9,96.9 449.2,99.9 449.6,103.3 449.9,107 450.3,110.9 450.6,115 451,119.1 451.3,123.2 451.7,127.1 452,130.8 452.4,134.2 452.7,137.2 453.1,139.8 453.4,141.9 453.8,143.4 454.1,144.3 454.5,144.6 454.9,144.3 455.1,147.3 455.3,144.3 455.2,143.4 455.6,142 455.9,140 456.3,137.5 456.6,134.5 457,131.2 457.3,127.5 457.7,123.6 458,119.6 458.4,115.4 458.8,111.2 459.1,107.2 459.5,103.3 459.8,99.6 460.2,96.3 460.5,93.3 460.9,90.8 461.2,88.8 461.6,87.4 461.9,86.5 462.3,86.2 462.7,86.5 463,87.3 463.4,88.7 463.8,90.6 464.1,93 464.5,95.7 464.9,98.8 465.2,102.2 465.6,105.7 466,109.3 466.3,113 466.7,116.5 467,119.9 467.4,123 467.8,125.7 468.1,128.1 468.5,130 468.9,131.4 469.2,132.2 469.6,132.5 470,130.8 470.4,126.5 470.6,126.5 470.9,120.8 471.1,115.9 471.4,118.2 471.6,114 471.9,113.5 472.1,113.2 472.4,105.8 472.6,109.4 472.9,101.9 473.1,107.9 473.4,102.8 473.6,106 473.9,109.3 474.1,107.2 474.4,108.4 474.6,103.9 474.9,98 475.1,101.7 475.4,95.7 475.6,93.5 475.9,90.1 476.1,94.6 476.4,91.8 476.6,94.7 476.9,93.6 477.1,97.2 477.4,99.8 477.6,99.9 477.9,102.9 478.2,104 478.6,104.7 479,106.7 479.4,109.7 479.8,113.2 480.1,116.8 480.5,119.8 480.9,121.8 481.3,122.5 481.7,122.2 482,121.8 482.4,121.5 482.8,123.1 483.2,126.4 483.6,128 484,127.6 484.3,126.4 484.7,124.4 485,121.7 485.4,118.5 485.8,114.9 486.1,111 486.5,107 486.8,103.1 487.2,99.5 487.6,96.3 487.9,93.6 488.3,91.6 488.6,90.4 489,90 489.4,90.3 489.7,91.3 490.1,93 490.4,95.2 490.8,98 491.2,101.3 491.5,105 491.9,109 492.3,113.3 492.6,117.8 493,122.2 493.3,126.7 493.7,131 494.1,135 494.4,138.7 494.8,142 495.2,144.8 495.5,147 495.9,148.7 496.2,149.7 496.6,150 497,149.6 497.3,148.4 497.7,146.5 498,143.8 498.4,140.5 498.8,136.6 499.1,132.3 499.5,127.5 499.8,122.6 500.2,117.5 500.6,112.4 500.9,107.5 501.3,102.7 501.6,98.4 502,94.5 502.4,91.2 502.7,88.5 503.1,86.6 503.4,85.4 503.8,85 504.2,85.4 504.5,86.7 504.9,88.7 505.2,91.5 505.6,95 505.9,99 506.2,103.6 506.6,108.5 506.9,113.7 507.3,119 507.7,124.3 508,129.5 508.4,134.4 508.7,139 509.1,143 509.4,146.5 509.8,149.3 510.1,151.3 510.4,152.6 510.8,153"/>
</g>
<rect x="70.6" y="26.5" width="440.2" height="454.6" fill="none" stroke="#1a1a1a" stroke-width="1.5"/>
<path d="M510.8 481.1V487.6M474.1 481.1V484.6M437.4 481.1V487.6M400.8 481.1V484.6M364.1 481.1V487.6M327.4 481.1V484.6M290.7 481.1V487.6M254 481.1V484.6M217.3 481.1V487.6M180.7 481.1V484.6M144 481.1V487.6M107.3 481.1V484.6M70.6 481.1V487.6M70.6 481.1H63.6M70.6 448.6H67.1M70.6 416.2H63.6M70.6 383.7H67.1M70.6 351.2H63.6M70.6 318.7H67.1M70.6 286.3H63.6M70.6 253.8H67.1M70.6 221.3H63.6M70.6 188.9H67.1M70.6 156.4H63.6M70.6 123.9H67.1M70.6 91.4H63.6M70.6 59H67.1M70.6 26.5H63.6" stroke="#1a1a1a" stroke-width="1.5" fill="none"/>
<text x="510.8" y="503" font-size="13.5" text-anchor="middle" fill="#1a1a1a" class="k">1000</text>
<text x="437.4" y="503" font-size="13.5" text-anchor="middle" fill="#1a1a1a" class="k">2000</text>
<text x="364.1" y="503" font-size="13.5" text-anchor="middle" fill="#1a1a1a" class="k">3000</text>
<text x="290.7" y="503" font-size="13.5" text-anchor="middle" fill="#1a1a1a" class="k">4000</text>
<text x="217.3" y="503" font-size="13.5" text-anchor="middle" fill="#1a1a1a" class="k">5000</text>
<text x="144" y="503" font-size="13.5" text-anchor="middle" fill="#1a1a1a" class="k">6000</text>
<text x="70.6" y="503" font-size="13.5" text-anchor="middle" fill="#1a1a1a" class="k">7000</text>
<text x="59.5" y="484.9" font-size="13.5" text-anchor="end" fill="#1a1a1a" class="k">0</text>
<text x="59.5" y="420" font-size="13.5" text-anchor="end" fill="#1a1a1a" class="k">10</text>
<text x="59.5" y="355" font-size="13.5" text-anchor="end" fill="#1a1a1a" class="k">20</text>
<text x="59.5" y="290.1" font-size="13.5" text-anchor="end" fill="#1a1a1a" class="k">30</text>
<text x="59.5" y="225.1" font-size="13.5" text-anchor="end" fill="#1a1a1a" class="k">40</text>
<text x="59.5" y="160.2" font-size="13.5" text-anchor="end" fill="#1a1a1a" class="k">50</text>
<text x="59.5" y="95.2" font-size="13.5" text-anchor="end" fill="#1a1a1a" class="k">60</text>
<text x="59.5" y="30.3" font-size="13.5" text-anchor="end" fill="#1a1a1a" class="k">70</text>
<text x="279" y="539" font-size="16.5" text-anchor="middle" fill="#1a1a1a" class="k">k [cm<tspan dy="-6.5" font-size="10">−1</tspan><tspan dy="6.5">]</tspan></text>
<text transform="translate(18.9,251.5) rotate(-90)" font-size="17" text-anchor="middle" fill="#1a1a1a" class="k">transmittance [%]</text>
<rect x="96.8" y="372.6" width="120.8" height="55.2" fill="#fff" stroke="#555" stroke-width="1"/>
<line x1="103.5" y1="383.8" x2="131.8" y2="383.8" stroke="#0b8a1e" stroke-width="2.2"/>
<text x="135.3" y="388.1" font-size="12.5" fill="#1a1a1a">after growth</text>
<line x1="103.5" y1="400.5" x2="131.8" y2="400.5" stroke="#ff1a1a" stroke-width="2.2"/>
<text x="135.3" y="404.8" font-size="12.5" fill="#1a1a1a">etched 4 <tspan font-family="Liberation Serif">μ</tspan>m</text>
<line x1="103.5" y1="417.2" x2="131.8" y2="417.2" stroke="#1212ee" stroke-width="2.2"/>
<text x="135.3" y="421.5" font-size="12.5" fill="#1a1a1a">etched 11 <tspan font-family="Liberation Serif">μ</tspan>m</text>
<rect x="411.6" y="35.3" width="76.1" height="19.7" fill="#dcf6d8" stroke="#86e08e" stroke-width="1.4"/>
<text x="418.8" y="50.4" font-size="15.4" fill="#1a1a1a" class="k">T = 300 K</text>
<text x="457.5" y="466" font-size="17" fill="#1a1a1a" class="k">#773</text>
<text x="195.5" y="304.3" font-size="17" fill="#1212ee">x<tspan dx="1.8">=</tspan><tspan dx="1.8">0.492</tspan></text>
<text x="337.8" y="315.8" font-size="17" fill="#ff1a1a">x<tspan dx="1.8">=</tspan><tspan dx="1.8">0.302</tspan></text>
<text x="281.5" y="209.5" font-size="19.5" font-weight="bold" font-style="italic" fill="#1212ee">t<tspan dx="0.3" dy="7" font-size="12.8">c</tspan></text>
<text x="399.2" y="246.8" font-size="19.5" font-weight="bold" font-style="italic" fill="#ff1a1a">t<tspan dx="0.3" dy="7" font-size="12.8">b</tspan></text>
<text x="443.4" y="374" font-size="19.5" font-weight="bold" font-style="italic" fill="#0b7a28">t<tspan dx="0.3" dy="7" font-size="12.8">a</tspan></text>
<rect x="73.5" y="0" width="198.3" height="184" fill="#fff"/>
<rect x="89.4" y="115.4" width="16" height="66" fill="#d3e3ec" stroke="#8c8c8c" stroke-width="1"/>
<rect x="105.4" y="115.4" width="15" height="66" fill="#c9e5bf" stroke="#8c8c8c" stroke-width="1"/>
<rect x="120.4" y="62.6" width="31.6" height="118.8" fill="#fcba98" stroke="#8c8c8c" stroke-width="1"/>
<rect x="152" y="7.9" width="46.1" height="173.5" fill="#8ecbe0" stroke="#8c8c8c" stroke-width="1"/>
<rect x="198.1" y="7.9" width="16.3" height="173.5" fill="#baa9d8" stroke="#8c8c8c" stroke-width="1"/>
<rect x="214.4" y="7.9" width="24.4" height="173.5" fill="#c2c2c2" stroke="#8c8c8c" stroke-width="1"/>
<g font-size="11.5" fill="#2e3a40" stroke="#2e3a40" stroke-width="0.3">
<text x="92.3" y="179">n<tspan dx="-0.3" dy="-4.2" font-size="9.5">+</tspan></text>
<text x="107.2" y="178.5">P<tspan dx="-0.3" dy="-4.2" font-size="9.5">+</tspan></text>
<text x="132.8" y="178.5">p</text>
<text x="172" y="177.8">N<tspan dx="-0.3" dy="-4.2" font-size="9.5">+</tspan></text>
<text transform="translate(211.2,178.4) rotate(-90)">CdTe</text>
<text transform="translate(231,178.4) rotate(-90)">GaAs</text>
</g>
<polyline fill="none" stroke="#1877b0" stroke-width="2.0" stroke-linecap="round" stroke-linejoin="round" points="121.8,37.6 122.2,37.9 122.6,38.3 123,38.6 123.4,38.9 123.8,39.2 124.2,39.4 124.6,39.5 125,39.6 125.4,39.7 125.8,39.7 126.2,39.6 126.6,39.5 127,39.3 127.4,39.1 127.8,38.8 128.2,38.5 128.6,38.2 129,37.8 129.4,37.5 129.8,37.1 130.2,36.8 130.6,36.5 131,36.2 131.4,36 131.8,35.8 132.2,35.6 132.6,35.5 133,35.5 133.4,35.5 133.8,35.6 134.2,35.8 134.6,36 135,36.2 135.4,36.5 135.8,36.8 136.2,37.1 136.6,37.5 137,37.8 137.4,38.2 137.8,38.5 138.2,38.8 138.6,39.1 139,39.3 139.4,39.5 139.8,39.6 140.2,39.7 140.6,39.7 141,39.6 141.4,39.5 141.8,39.4 142.2,39.2 142.6,38.9 143,38.6 143.4,38.3 143.8,37.9 144.2,37.6 144.6,37.2 145,36.9 145.4,36.6 145.8,36.3 146.2,36 146.6,35.8 147,35.6 147.4,35.5 147.8,35.5 148.2,35.5 148.6,35.6 149,35.7 149.4,35.9 149.8,36.1 150.2,36.4 150.6,36.7 151,37.1 151.4,37.4 151.8,37.8 152.2,38.1 152.6,38.4 153,38.8 153.4,39 153.8,39.3 154.2,39.5 154.6,39.6 155,39.7 155.4,39.7 155.8,39.7 156.2,39.6 156.6,39.4 157,39.2 157.4,39 157.8,38.7 158.2,38.4 158.6,38 159,37.7 159.4,37.3 159.8,37 160.2,36.6 160.6,36.3 161,36.1 161.4,35.9 161.8,35.7 162.2,35.6 162.6,35.5 163,35.5 163.4,35.6 163.8,35.7 164.2,35.9 164.6,36.1 165,36.3 165.4,36.6 165.8,37 166.2,37.3 166.6,37.7 167,38 167.4,38.4 167.8,38.7 168.2,39 168.6,39.2 169,39.4 169.4,39.6 169.8,39.7 170.2,39.7 170.6,39.7 171,39.6 171.4,39.5 171.8,39.3 172.2,39 172.6,38.8 173,38.4 173.4,38.1 173.8,37.8 174.2,37.4 174.6,37.1 175,36.7 175.4,36.4 175.8,36.1 176.2,35.9 176.6,35.7 177,35.6 177.4,35.5 177.8,35.5 178.2,35.5 178.6,35.6 179,35.8 179.4,36 179.8,36.3 180.2,36.6 180.6,36.9 181,37.2 181.4,37.6 181.8,37.9 182.2,38.3 182.6,38.6 183,38.9 183.4,39.2 183.8,39.4 184.2,39.5 184.6,39.6 185,39.7 185.4,39.7 185.8,39.6 186.2,39.5 186.6,39.3 187,39.1 187.4,38.8 187.8,38.5 188.2,38.2 188.6,37.8 189,37.5 189.4,37.1 189.8,36.8 190.2,36.5 190.6,36.2 191,36 191.4,35.8 191.8,35.6 192.2,35.5 192.6,35.5 193,35.5 193.4,35.6 193.8,35.8 194.2,36 194.6,36.2 195,36.5 195.4,36.8 195.8,37.1 196.2,37.5 196.6,37.8 197,38.2 197.4,38.5 197.8,38.8 198.2,39.1 198.6,39.3 199,39.5 199.4,39.6 199.8,39.7 200.2,39.7 200.6,39.6 201,39.5 201.4,39.4 201.8,39.2 202.2,38.9 202.6,38.6 203,38.3 203.4,37.9 203.8,37.6 204.2,37.2 204.6,36.9 205,36.6 205.4,36.3 205.8,36 206.2,35.8 206.6,35.6 207,35.5 207.4,35.5 207.8,35.5 208.2,35.6 208.6,35.7 209,35.9 209.4,36.1 209.8,36.4 210.2,36.7 210.6,37.1 211,37.4 211.4,37.8 211.8,38.1 212.2,38.4 212.6,38.8 213,39 213.4,39.3 213.8,39.5 214.2,39.6 214.6,39.7 215,39.7 215.4,39.7 215.8,39.6 216.2,39.4 216.6,39.2 217,39 217.4,38.7 217.8,38.4 218.2,38 218.6,37.7 219,37.3 219.4,37 219.8,36.6 220.2,36.3 220.6,36.1 221,35.9 221.4,35.7 221.8,35.6 222.2,35.5 222.6,35.5 223,35.6 223.4,35.7 223.8,35.9 224.2,36.1 224.6,36.3 225,36.6 225.4,37 225.8,37.3 226.2,37.7 226.6,38 227,38.4 227.4,38.7 227.8,39 228.2,39.2 228.6,39.4 229,39.6 229.4,39.7 229.8,39.7 230.2,39.7 230.6,39.6 231,39.5 231.4,39.3 231.8,39 232.2,38.8 232.6,38.4 233,38.1 233.4,37.8 233.8,37.4 234.2,37.1 234.6,36.7 235,36.4 235.4,36.1 235.8,35.9 236.2,35.7 236.6,35.6 237,35.5 237.4,35.5 237.8,35.5 238.2,35.6 238.6,35.8 239,36 239.4,36.3 239.8,36.6 240.2,36.9 240.6,37.2 241,37.6 241.4,37.9 241.8,38.3 242.2,38.6 242.6,38.9 243,39.2 243.4,39.4 243.8,39.5 244.2,39.6 244.6,39.7 245,39.7 245.4,39.6 245.8,39.5 246.2,39.3 246.6,39.1 247,38.8 247.4,38.5 247.8,38.2 248.2,37.8 248.5,37.6 251.5,37.1 255.5,37.4 264.3,37.6"/><path d="M270.3 37.6 L258.8 34.6 L262 37.6 L258.8 40.6 Z" fill="#1877b0"/>
<polyline fill="none" stroke="#e24444" stroke-width="2.0" stroke-linecap="round" stroke-linejoin="round" points="88.3,88.3 88.7,88.7 89.1,89 89.5,89.3 89.9,89.6 90.3,89.8 90.7,89.9 91.1,90 91.5,90 91.9,89.9 92.3,89.8 92.7,89.6 93.1,89.4 93.5,89.1 93.9,88.7 94.3,88.4 94.7,88 95.1,87.6 95.5,87.2 95.9,86.8 96.3,86.4 96.7,86.1 97.1,85.8 97.5,85.5 97.9,85.4 98.3,85.3 98.7,85.2 99.1,85.2 99.5,85.3 99.9,85.5 100.3,85.7 100.7,85.9 101.1,86.2 101.5,86.6 101.9,87 102.3,87.4 102.7,87.8 103.1,88.2 103.5,88.5 103.9,88.9 104.3,89.2 104.7,89.5 105.1,89.7 105.5,89.9 105.9,90 106.3,90 106.7,90 107.1,89.9 107.5,89.7 107.9,89.5 108.3,89.2 108.7,88.9 109.1,88.5 109.5,88.1 109.9,87.7 110.3,87.3 110.7,86.9 111.1,86.5 111.5,86.2 111.9,85.9 112.3,85.6 112.7,85.4 113.1,85.3 113.5,85.2 113.9,85.2 114.3,85.3 114.7,85.4 115.1,85.6 115.5,85.8 115.9,86.1 116.3,86.5 116.7,86.8 117.1,87.2 117.5,87.6 117.9,88 118.3,88.4 118.7,88.8 119.1,89.1 119.5,89.4 119.9,89.6 120.3,89.8 120.7,89.9 121.1,90 121.5,90 121.9,89.9 122.3,89.8 122.7,89.6 123.1,89.3 123.5,89 123.9,88.6 124.3,88.3 124.7,87.9 125.1,87.5 125.5,87.1 125.9,86.7 126.3,86.3 126.7,86 127.1,85.7 127.5,85.5 127.9,85.3 128.3,85.2 128.7,85.2 129.1,85.2 129.5,85.3 129.9,85.5 130.3,85.7 130.7,86 131.1,86.3 131.5,86.7 131.9,87.1 132.3,87.5 132.7,87.9 133.1,88.3 133.5,88.6 133.9,89 134.3,89.3 134.7,89.6 135.1,89.8 135.5,89.9 135.9,90 136.3,90 136.7,89.9 137.1,89.8 137.5,89.6 137.9,89.4 138.3,89.1 138.7,88.8 139.1,88.4 139.5,88 139.9,87.6 140.3,87.2 140.7,86.8 141.1,86.5 141.5,86.1 141.9,85.8 142.3,85.6 142.7,85.4 143.1,85.3 143.5,85.2 143.9,85.2 144.3,85.3 144.7,85.4 145.1,85.6 145.5,85.9 145.9,86.2 146.3,86.5 146.7,86.9 147.1,87.3 147.5,87.7 147.9,88.1 148.3,88.5 148.7,88.9 149.1,89.2 149.5,89.5 149.9,89.7 150.3,89.9 150.7,90 151.1,90 151.5,90 151.9,89.9 152.3,89.7 152.7,89.5 153.1,89.2 153.5,88.9 153.9,88.5 154.3,88.2 154.7,87.8 155.1,87.4 155.5,87 155.9,86.6 156.3,86.2 156.7,85.9 157.1,85.7 157.5,85.5 157.9,85.3 158.3,85.2 158.7,85.2 159.1,85.3 159.5,85.4 159.9,85.5 160.3,85.8 160.7,86.1 161.1,86.4 161.5,86.8 161.9,87.2 162.3,87.6 162.7,88 163.1,88.4 163.5,88.7 163.9,89.1 164.3,89.4 164.7,89.6 165.1,89.8 165.5,89.9 165.9,90 166.3,90 166.7,89.9 167.1,89.8 167.5,89.6 167.9,89.3 168.3,89 168.7,88.7 169.1,88.3 169.5,87.9 169.9,87.5 170.3,87.1 170.7,86.7 171.1,86.4 171.5,86 171.9,85.8 172.3,85.5 172.7,85.4 173.1,85.2 173.5,85.2 173.9,85.2 174.3,85.3 174.7,85.5 175.1,85.7 175.5,86 175.9,86.3 176.3,86.6 176.7,87 177.1,87.4 177.5,87.8 177.9,88.2 178.3,88.6 178.7,88.9 179.1,89.3 179.5,89.5 179.9,89.7 180.3,89.9 180.7,90 181.1,90 181.5,90 181.9,89.8 182.3,89.7 182.7,89.4 183.1,89.1 183.5,88.8 183.9,88.5 184.3,88.1 184.7,87.7 185.1,87.3 185.5,86.9 185.9,86.5 186.3,86.2 186.7,85.9 187.1,85.6 187.5,85.4 187.9,85.3 188.3,85.2 188.7,85.2 189.1,85.3 189.5,85.4 189.9,85.6 190.3,85.9 190.7,86.2 191.1,86.5 191.5,86.9 191.9,87.3 192.3,87.7 192.7,88.1 193.1,88.5 193.5,88.8 193.9,89.1 194.3,89.4 194.7,89.7 195.1,89.8 195.5,90 195.9,90 196.3,90 196.7,89.9 197.1,89.7 197.5,89.5 197.9,89.3 198.3,88.9 198.7,88.6 199.1,88.2 199.5,87.8 199.9,87.4 200.3,87 200.7,86.6 201.1,86.3 201.5,86 201.9,85.7 202.3,85.5 202.7,85.3 203.1,85.2 203.5,85.2 203.9,85.2 204.3,85.4 204.7,85.5 205.1,85.8 205.5,86 205.9,86.4 206.3,86.7 206.7,87.1 207.1,87.5 207.5,87.9 207.9,88.3 208.3,88.7 208.7,89 209.1,89.3 209.5,89.6 209.9,89.8 210.3,89.9 210.7,90 211.1,90 211.5,89.9 211.9,89.8 212.3,89.6 212.7,89.4 213.1,89.1 213.5,88.7 213.9,88.4 214.3,88 214.7,87.6 215.1,87.2 215.5,86.8 215.9,86.4 216.3,86.1 216.7,85.8 217.1,85.5 217.5,85.4 217.9,85.3 218.3,85.2 218.7,85.2 219.1,85.3 219.5,85.5 219.9,85.7 220.3,85.9 220.7,86.2 221.1,86.6 221.5,87 221.9,87.4 222.3,87.8 222.7,88.2 223.1,88.5 223.5,88.9 223.9,89.2 224.3,89.5 224.7,89.7 225.1,89.9 225.5,90 225.9,90 226.3,90 226.7,89.9 227.1,89.7 227.5,89.5 227.9,89.2 228.3,88.9 228.7,88.5 229.1,88.1 229.5,87.7 229.9,87.3 230.3,86.9 230.7,86.5 231.1,86.2 231.5,85.9 231.9,85.6 232.3,85.4 232.7,85.3 233.1,85.2 233.5,85.2 233.9,85.3 234.3,85.4 234.7,85.6 235.1,85.8 235.5,86.1 235.9,86.5 236.3,86.8 236.7,87.2 237.1,87.6 237.5,88 237.9,88.4 238.3,88.8 238.7,89.1 239.1,89.4 239.5,89.6 239.9,89.8 240.3,89.9 240.7,90 241.1,90 241.5,89.9 241.9,89.8 242.3,89.6 242.7,89.3 243.1,89 243.5,88.6 243.9,88.3 244.3,87.9 244.6,87.6 247.6,87 251.6,87.4 262.3,87.6"/><path d="M268.3 87.6 L256.8 84.6 L260 87.6 L256.8 90.6 Z" fill="#e24444"/>
<polyline fill="none" stroke="#0f9a55" stroke-width="2.0" stroke-linecap="round" stroke-linejoin="round" points="73.3,135 73.7,134.6 74.1,134.3 74.5,133.9 74.9,133.6 75.3,133.4 75.7,133.1 76.1,133 76.5,132.8 76.9,132.8 77.3,132.8 77.7,132.8 78.1,132.9 78.5,133 78.9,133.3 79.3,133.5 79.7,133.8 80.1,134.1 80.5,134.4 80.9,134.8 81.3,135.2 81.7,135.5 82.1,135.9 82.5,136.2 82.9,136.5 83.3,136.7 83.7,136.9 84.1,137.1 84.5,137.2 84.9,137.2 85.3,137.2 85.7,137.2 86.1,137.1 86.5,136.9 86.9,136.7 87.3,136.4 87.7,136.1 88.1,135.8 88.5,135.4 88.9,135.1 89.3,134.7 89.7,134.4 90.1,134 90.5,133.7 90.9,133.4 91.3,133.2 91.7,133 92.1,132.9 92.5,132.8 92.9,132.8 93.3,132.8 93.7,132.9 94.1,133 94.5,133.2 94.9,133.4 95.3,133.7 95.7,134 96.1,134.4 96.5,134.7 96.9,135.1 97.3,135.4 97.7,135.8 98.1,136.1 98.5,136.4 98.9,136.7 99.3,136.9 99.7,137.1 100.1,137.2 100.5,137.2 100.9,137.2 101.3,137.2 101.7,137.1 102.1,136.9 102.5,136.7 102.9,136.5 103.3,136.2 103.7,135.9 104.1,135.5 104.5,135.2 104.9,134.8 105.3,134.4 105.7,134.1 106.1,133.8 106.5,133.5 106.9,133.3 107.3,133 107.7,132.9 108.1,132.8 108.5,132.8 108.9,132.8 109.3,132.8 109.7,133 110.1,133.1 110.5,133.4 110.9,133.6 111.3,133.9 111.7,134.3 112.1,134.6 112.5,135 112.9,135.3 113.3,135.7 113.7,136 114.1,136.3 114.5,136.6 114.9,136.8 115.3,137 115.7,137.1 116.1,137.2 116.5,137.2 116.9,137.2 117.3,137.1 117.7,137 118.1,136.8 118.5,136.5 118.9,136.3 119.3,135.9 119.7,135.6 120.1,135.2 120.5,134.9 120.9,134.5 121.3,134.2 121.7,133.9 122.1,133.6 122.5,133.3 122.9,133.1 123.3,132.9 123.7,132.8 124.1,132.8 124.5,132.8 124.9,132.8 125.3,132.9 125.7,133.1 126.1,133.3 126.5,133.6 126.9,133.9 127.3,134.2 127.7,134.5 128.1,134.9 128.5,135.2 128.9,135.6 129.3,135.9 129.7,136.3 130.1,136.5 130.5,136.8 130.9,137 131.3,137.1 131.7,137.2 132.1,137.2 132.5,137.2 132.9,137.1 133.3,137 133.7,136.8 134.1,136.6 134.5,136.3 134.9,136 135.3,135.7 135.7,135.3 136.1,135 136.5,134.6 136.9,134.3 137.3,133.9 137.7,133.6 138.1,133.4 138.5,133.1 138.9,133 139.3,132.8 139.7,132.8 140.1,132.8 140.5,132.8 140.9,132.9 141.3,133 141.7,133.3 142.1,133.5 142.5,133.8 142.9,134.1 143.3,134.4 143.7,134.8 144.1,135.2 144.5,135.5 144.9,135.9 145.3,136.2 145.7,136.5 146.1,136.7 146.5,136.9 146.9,137.1 147.3,137.2 147.7,137.2 148.1,137.2 148.5,137.2 148.9,137.1 149.3,136.9 149.7,136.7 150.1,136.4 150.5,136.1 150.9,135.8 151.3,135.4 151.7,135.1 152.1,134.7 152.5,134.4 152.9,134 153.3,133.7 153.7,133.4 154.1,133.2 154.5,133 154.9,132.9 155.3,132.8 155.7,132.8 156.1,132.8 156.5,132.9 156.9,133 157.3,133.2 157.7,133.4 158.1,133.7 158.5,134 158.9,134.4 159.3,134.7 159.7,135.1 160.1,135.4 160.5,135.8 160.9,136.1 161.3,136.4 161.7,136.7 162.1,136.9 162.5,137.1 162.9,137.2 163.3,137.2 163.7,137.2 164.1,137.2 164.5,137.1 164.9,136.9 165.3,136.7 165.7,136.5 166.1,136.2 166.5,135.9 166.9,135.5 167.3,135.2 167.7,134.8 168.1,134.4 168.5,134.1 168.9,133.8 169.3,133.5 169.7,133.3 170.1,133 170.5,132.9 170.9,132.8 171.3,132.8 171.7,132.8 172.1,132.8 172.5,133 172.9,133.1 173.3,133.4 173.7,133.6 174.1,133.9 174.5,134.3 174.9,134.6 175.3,135 175.7,135.3 176.1,135.7 176.5,136 176.9,136.3 177.3,136.6 177.7,136.8 178.1,137 178.5,137.1 178.9,137.2 179.3,137.2 179.7,137.2 180.1,137.1 180.5,137 180.9,136.8 181.3,136.5 181.7,136.3 182.1,135.9 182.5,135.6 182.9,135.2 183.3,134.9 183.7,134.5 184.1,134.2 184.5,133.9 184.9,133.6 185.3,133.3 185.7,133.1 186.1,132.9 186.5,132.8 186.9,132.8 187.3,132.8 187.7,132.8 188.1,132.9 188.5,133.1 188.9,133.3 189.3,133.6 189.7,133.9 190.1,134.2 190.5,134.5 190.9,134.9 191.3,135.2 191.7,135.6 192.1,135.9 192.5,136.3 192.9,136.5 193.3,136.8 193.7,137 194.1,137.1 194.5,137.2 194.9,137.2 195.3,137.2 195.7,137.1 196.1,137 196.5,136.8 196.9,136.6 197.3,136.3 197.7,136 198.1,135.7 198.5,135.3 198.9,135 199.3,134.6 199.7,134.3 200.1,133.9 200.5,133.6 200.9,133.4 201.3,133.1 201.7,133 202.1,132.8 202.5,132.8 202.9,132.8 203.3,132.8 203.7,132.9 204.1,133 204.5,133.3 204.9,133.5 205.3,133.8 205.7,134.1 206.1,134.4 206.5,134.8 206.9,135.2 207.3,135.5 207.7,135.9 208.1,136.2 208.5,136.5 208.9,136.7 209.3,136.9 209.7,137.1 210.1,137.2 210.5,137.2 210.9,137.2 211.3,137.2 211.7,137.1 212.1,136.9 212.5,136.7 212.9,136.4 213.3,136.1 213.7,135.8 214.1,135.4 214.5,135.1 214.9,134.7 215.3,134.4 215.7,134 216.1,133.7 216.5,133.4 216.9,133.2 217.3,133 217.7,132.9 218.1,132.8 218.5,132.8 218.9,132.8 219.3,132.9 219.7,133 220.1,133.2 220.5,133.4 220.9,133.7 221.3,134 221.7,134.4 222.1,134.7 222.5,135.1 222.9,135.4 223.3,135.8 223.7,136.1 224.1,136.4 224.5,136.7 224.9,136.9 225.3,137.1 225.7,137.2 226.1,137.2 226.5,137.2 226.9,137.2 227.3,137.1 227.7,136.9 228.1,136.7 228.5,136.5 228.9,136.2 229.3,135.9 229.7,135.5 230.1,135.2 230.5,134.8 230.9,134.4 231.3,134.1 231.7,133.8 232.1,133.5 232.5,133.3 232.9,133 233.3,132.9 233.7,132.8 234.1,132.8 234.5,132.8 234.9,132.8 235.3,133 235.7,133.1 236.1,133.4 236.5,133.6 236.9,133.9 237.3,134.3 237.7,134.6 238.1,135 238.5,135.3 238.9,135.7 239.3,136 239.7,136.3 240.1,136.6 240.5,136.8 240.9,137 241.3,137.1 241.7,137.2 242.1,137.2 242.5,137.2 242.9,137.1 243.3,137 243.7,136.8 244.1,136.5 244.5,136.3 244.9,135.9 245.3,135.6 245.7,135.2 246,135 249,134.4 253,134.8 263.2,135"/><path d="M269.2 135 L257.7 132 L260.9 135 L257.7 138 Z" fill="#0f9a55"/>
<text x="259.2" y="29.5" font-size="15" font-style="italic" fill="#1d5596">t<tspan dx="0.6" dy="4.6" font-size="11">c</tspan></text>
<text x="257.6" y="77.6" font-size="15" font-style="italic" fill="#e24444">t<tspan dx="0.6" dy="4.6" font-size="11">b</tspan></text>
<text x="258.6" y="125.8" font-size="15" font-style="italic" fill="#129a58">t<tspan dx="0.6" dy="4.6" font-size="11">a</tspan></text>
</svg></body></html>
